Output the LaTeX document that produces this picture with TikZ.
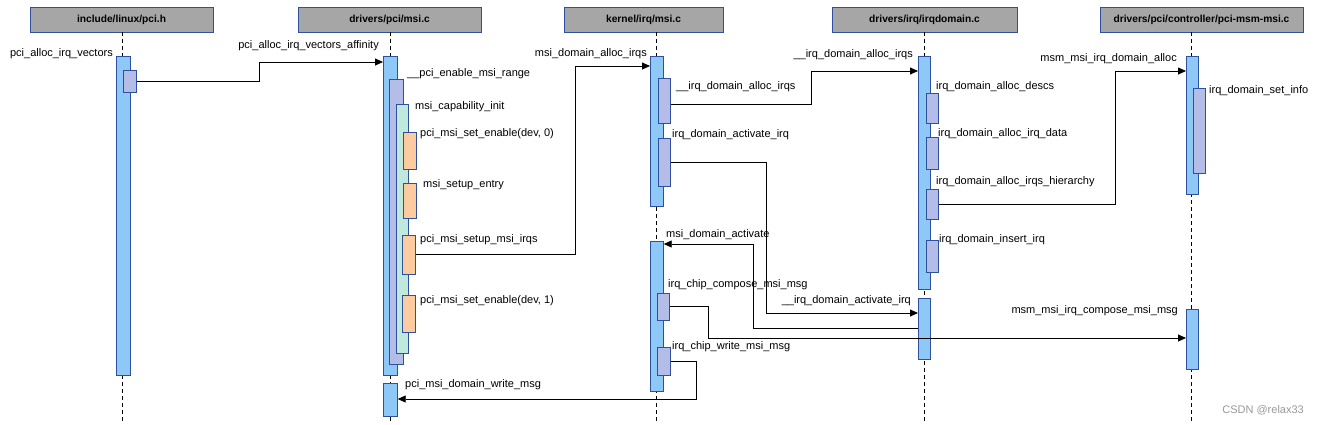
\documentclass[tikz,border=0pt]{standalone}
\usepackage{fontspec}
\setmainfont{Liberation Sans}
\usetikzlibrary{arrows.meta}
\definecolor{barblue}{HTML}{8DC8F6}
\definecolor{barline}{HTML}{2F4F9F}
\definecolor{lav}{HTML}{B4BDE8}
\definecolor{mint}{HTML}{BFE9DC}
\definecolor{org}{HTML}{FCCBA0}
\definecolor{hdr}{HTML}{A6A6A6}
\tikzset{
 hd/.style={draw=barline,fill=hdr,minimum height=25pt,inner sep=0pt,font=\fontsize{10.2}{11}\selectfont\bfseries},
 life/.style={dash pattern=on 4pt off 3pt,thin},
 act/.style={draw=barline,line width=0.7pt,inner sep=0pt,anchor=north west},
 blue/.style={act,fill=barblue},
 lv/.style={act,fill=lav},
 mt/.style={act,fill=mint},
 og/.style={act,fill=org},
 lbl/.style={font=\fontsize{11}{12}\selectfont,inner sep=0pt},
 msg/.style={line width=0.8pt,-{Triangle[length=8pt,width=7pt]}},
}
\newcommand\actbox[6]{\node[#1,minimum width=#4pt,minimum height=#5pt] (#6) at (#2,#3) {};}
\begin{document}
\begin{tikzpicture}[x=1pt,y=-1pt]
\useasboundingbox[fill=white] (0,0) rectangle (1319,424);
% headers
\node[hd,minimum width=183pt] (h1) at (121.5,19.5) {include/linux/pci.h};
\node[hd,minimum width=183pt] (h2) at (389.5,19.5) {drivers/pci/msi.c};
\node[hd,minimum width=159pt] (h3) at (643.5,19.5) {kernel/irq/msi.c};
\node[hd,minimum width=185pt] (h4) at (924.5,19.5) {drivers/irq/irqdomain.c};
\node[hd,minimum width=203pt] (h5) at (1201.5,19.5) {drivers/pci/controller/pci-msm-msi.c};
\coordinate (e1) at (122,424); \coordinate (e2) at (390,424); \coordinate (e3) at (656,424);
\coordinate (e4) at (924,424); \coordinate (e5) at (1191,424);
\draw[life] (h1.south -| e1) -- (e1);
\draw[life] (h2.south -| e2) -- (e2);
\draw[life] (h3.south -| e3) -- (e3);
\draw[life] (h4.south -| e4) -- (e4);
\draw[life] (h5.south -| e5) -- (e5);
% activations
\actbox{blue}{116}{56}{14}{319}{A1}
\actbox{lv}{123}{70}{13}{22}{A2}
\actbox{blue}{383}{56}{14}{319}{B1}
\actbox{lv}{389}{79}{14}{285}{B2}
\actbox{mt}{396}{104}{12}{249}{B3}
\actbox{og}{403}{132}{13}{37}{O1}
\actbox{og}{403}{183}{13}{35}{O2}
\actbox{og}{402}{235}{13}{39}{O3}
\actbox{og}{402}{295}{13}{37}{O4}
\actbox{blue}{383}{383}{14}{33}{B4}
\actbox{blue}{650}{56}{13}{150}{C1}
\actbox{lv}{658}{78}{12}{45}{C2}
\actbox{lv}{658}{138}{12}{48}{C3}
\actbox{blue}{650}{241}{13}{150}{C4}
\actbox{lv}{657}{293}{12}{27}{C5}
\actbox{lv}{657}{347}{13}{28}{C6}
\actbox{blue}{918}{56}{12}{233}{D1}
\actbox{lv}{926}{93}{12}{30}{D2}
\actbox{lv}{926}{137}{12}{32}{D3}
\actbox{lv}{926}{189}{12}{30}{D4}
\actbox{lv}{926}{240}{12}{32}{D5}
\actbox{blue}{918}{298}{12}{61}{D6}
\actbox{blue}{1186}{56}{12}{138}{E1}
\actbox{lv}{1193}{88}{12}{85}{E2}
\actbox{blue}{1186}{309}{12}{60}{E3}
% labels
\node[lbl,anchor=east] (l1) at (113,54) {pci\_alloc\_irq\_vectors};
\node[lbl,anchor=east] (l2) at (379,46) {pci\_alloc\_irq\_vectors\_affinity};
\node[lbl,anchor=west] (l3) at (407,74) {\_\_pci\_enable\_msi\_range};
\node[lbl,anchor=west] (l4) at (415,107) {msi\_capability\_init};
\node[lbl,anchor=west] (l5) at (420,134) {pci\_msi\_set\_enable(dev, 0)};
\node[lbl,anchor=west] (l6) at (423,185) {msi\_setup\_entry};
\node[lbl,anchor=west] (l7) at (420,240) {pci\_msi\_setup\_msi\_irqs};
\node[lbl,anchor=west] (l8) at (420,301) {pci\_msi\_set\_enable(dev, 1)};
\node[lbl,anchor=west] (l9) at (405,385) {pci\_msi\_domain\_write\_msg};
\node[lbl,anchor=east] (l10) at (647,54) {msi\_domain\_alloc\_irqs};
\node[lbl,anchor=west] (l11) at (676,87) {\_\_irq\_domain\_alloc\_irqs};
\node[lbl,anchor=west] (l12) at (672,135) {irq\_domain\_activate\_irq};
\node[lbl,anchor=west] (l13) at (666,235) {msi\_domain\_activate};
\node[lbl,anchor=west] (l14) at (668,285) {irq\_chip\_compose\_msi\_msg};
\node[lbl,anchor=west] (l15) at (672,347) {irq\_chip\_write\_msi\_msg};
\node[lbl,anchor=east] (l16) at (913,55) {\_\_irq\_domain\_alloc\_irqs};
\node[lbl,anchor=east] (l17) at (911,301) {\_\_irq\_domain\_activate\_irq};
\node[lbl,anchor=west] (l18) at (936,87) {irq\_domain\_alloc\_descs};
\node[lbl,anchor=west] (l19) at (938,134) {irq\_domain\_alloc\_irq\_data};
\node[lbl,anchor=west] (l20) at (936,182) {irq\_domain\_alloc\_irqs\_hierarchy};
\node[lbl,anchor=west] (l21) at (939,240) {irq\_domain\_insert\_irq};
\node[lbl,anchor=east] (l22) at (1177,59) {msm\_msi\_irq\_domain\_alloc};
\node[lbl,anchor=west] (l23) at (1209,91) {irq\_domain\_set\_info};
\node[lbl,anchor=east] (l24) at (1178,311) {msm\_msi\_irq\_compose\_msi\_msg};
\node[lbl,anchor=east,text=black!40] (wm) at (1304,410) {CSDN @relax33};
% messages
\draw[msg] (A2.east |- 0,81) -- (259,81) -- (259,62) -- (B1.west |- 0,62);
\draw[msg] (O3.east |- 0,254) -- (575,254) -- (575,66) -- (C1.west |- 0,66);
\draw[msg] (C2.east |- 0,104) -- (811,104) -- (811,71) -- (D1.west |- 0,71);
\draw[msg] (C3.east |- 0,162) -- (766,162) -- (766,313) -- (D6.west |- 0,313);
\draw[msg] (D6.west |- 0,328) -- (753,328) -- (753,244) -- (C4.east |- 0,244);
\draw[msg] (D4.east |- 0,204) -- (1115,204) -- (1115,71) -- (E1.west |- 0,71);
\draw[msg] (C5.east |- 0,306) -- (708,306) -- (708,338) -- (E3.west |- 0,338);
\draw[msg] (C6.east |- 0,361) -- (696,361) -- (696,399) -- (B4.east |- 0,399);
\end{tikzpicture}
\end{document}
